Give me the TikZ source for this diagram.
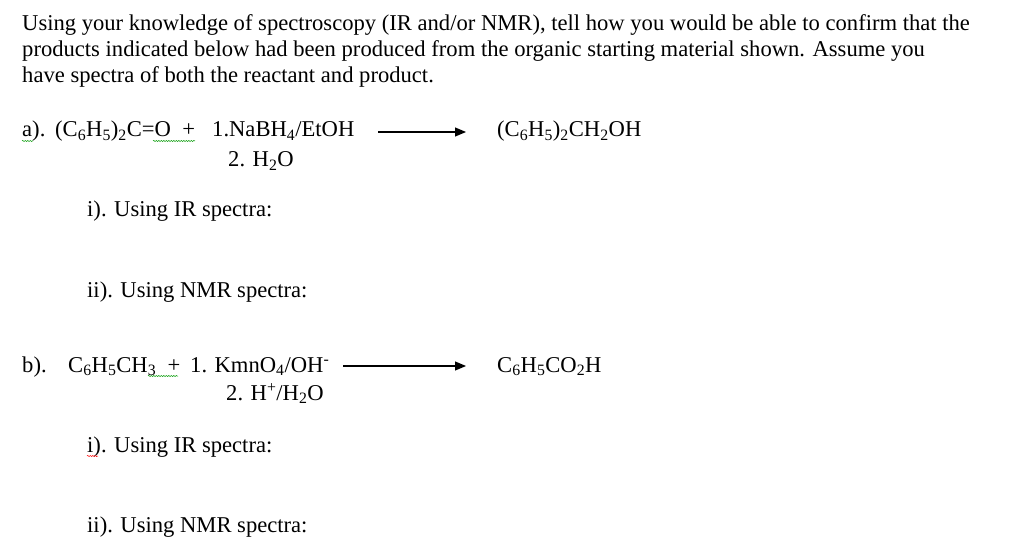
\documentclass[tikz,border=0pt]{standalone}
\usepackage{fontspec}
\setmainfont{Liberation Serif}
\usetikzlibrary{arrows.meta,decorations.pathmorphing}
\newcommand{\mysb}[1]{\textsubscript{#1}}
\newcommand{\mysp}[1]{\textsuperscript{#1}}
\begin{document}
\begin{tikzpicture}[x=1pt,y=-1pt,
  t/.style={anchor=base west,inner sep=0pt,font=\fontsize{22.6}{27}\selectfont},
  rx/.style={-{Triangle[length=11pt,width=9pt]},line width=1.1pt},
  sq/.style={decorate,decoration={snake,amplitude=0.6pt,segment length=2.5pt},line width=0.5pt}]
\useasboundingbox (0,0) rectangle (1024,553);
\node[t] (l1) at (22,31) {Using your knowledge of spectroscopy (IR and/or NMR), tell how you would be able to confirm that the};
\node[t] (l2) at (22,57) {products indicated below had been produced from the organic starting material shown. Assume you};
\node[t] (l3) at (22,83) {have spectra of both the reactant and product.};
\node[t] (a) at (22,137) {a).};
\node[t] (ar) at (55,137) {(C\mysb{6}H\mysb{5})\mysb{2}C=O\enspace+};
\node[t] (ag1) at (212,137) {1.NaBH\mysb{4}/EtOH};
\node[t] (ag2) at (228,167) {2. H\mysb{2}O};
\coordinate (a1) at (378,132); \coordinate (a2) at (466,132);
\draw[rx] (a1) -- (a2);
\node[t] (ap) at (497,137) {(C\mysb{6}H\mysb{5})\mysb{2}CH\mysb{2}OH};
\node[t] (ai) at (87,217) {i). Using IR spectra:};
\node[t] (aii) at (87,297) {ii). Using NMR spectra:};
\node[t] (b) at (22,372) {b).};
\node[t] (br) at (68,372) {C\mysb{6}H\mysb{5}CH\mysb{3}\enspace+};
\node[t] (bg1) at (190,372) {1. KmnO\mysb{4}/OH\mysp{-}};
\node[t] (bg2) at (226,400) {2. H\mysp{+}/H\mysb{2}O};
\coordinate (b1) at (343,366); \coordinate (b2) at (466,366);
\draw[rx] (b1) -- (b2);
\node[t] (bp) at (497,372) {C\mysb{6}H\mysb{5}CO\mysb{2}H};
\node[t] (bi) at (87,452) {i). Using IR spectra:};
\node[t] (bii) at (87,532) {ii). Using NMR spectra:};
\coordinate (w1) at (22,141); \coordinate (w2) at (33,141);
\draw[sq,green!60!black] (w1) -- (w2);
\coordinate (w3) at (153,141); \coordinate (w4) at (195,141);
\draw[sq,green!60!black] (w3) -- (w4);
\coordinate (w5) at (148,376); \coordinate (w6) at (178,376);
\draw[sq,green!60!black] (w5) -- (w6);
\coordinate (w7) at (87,456); \coordinate (w8) at (98,456);
\draw[sq,red] (w7) -- (w8);
\end{tikzpicture}
\end{document}
